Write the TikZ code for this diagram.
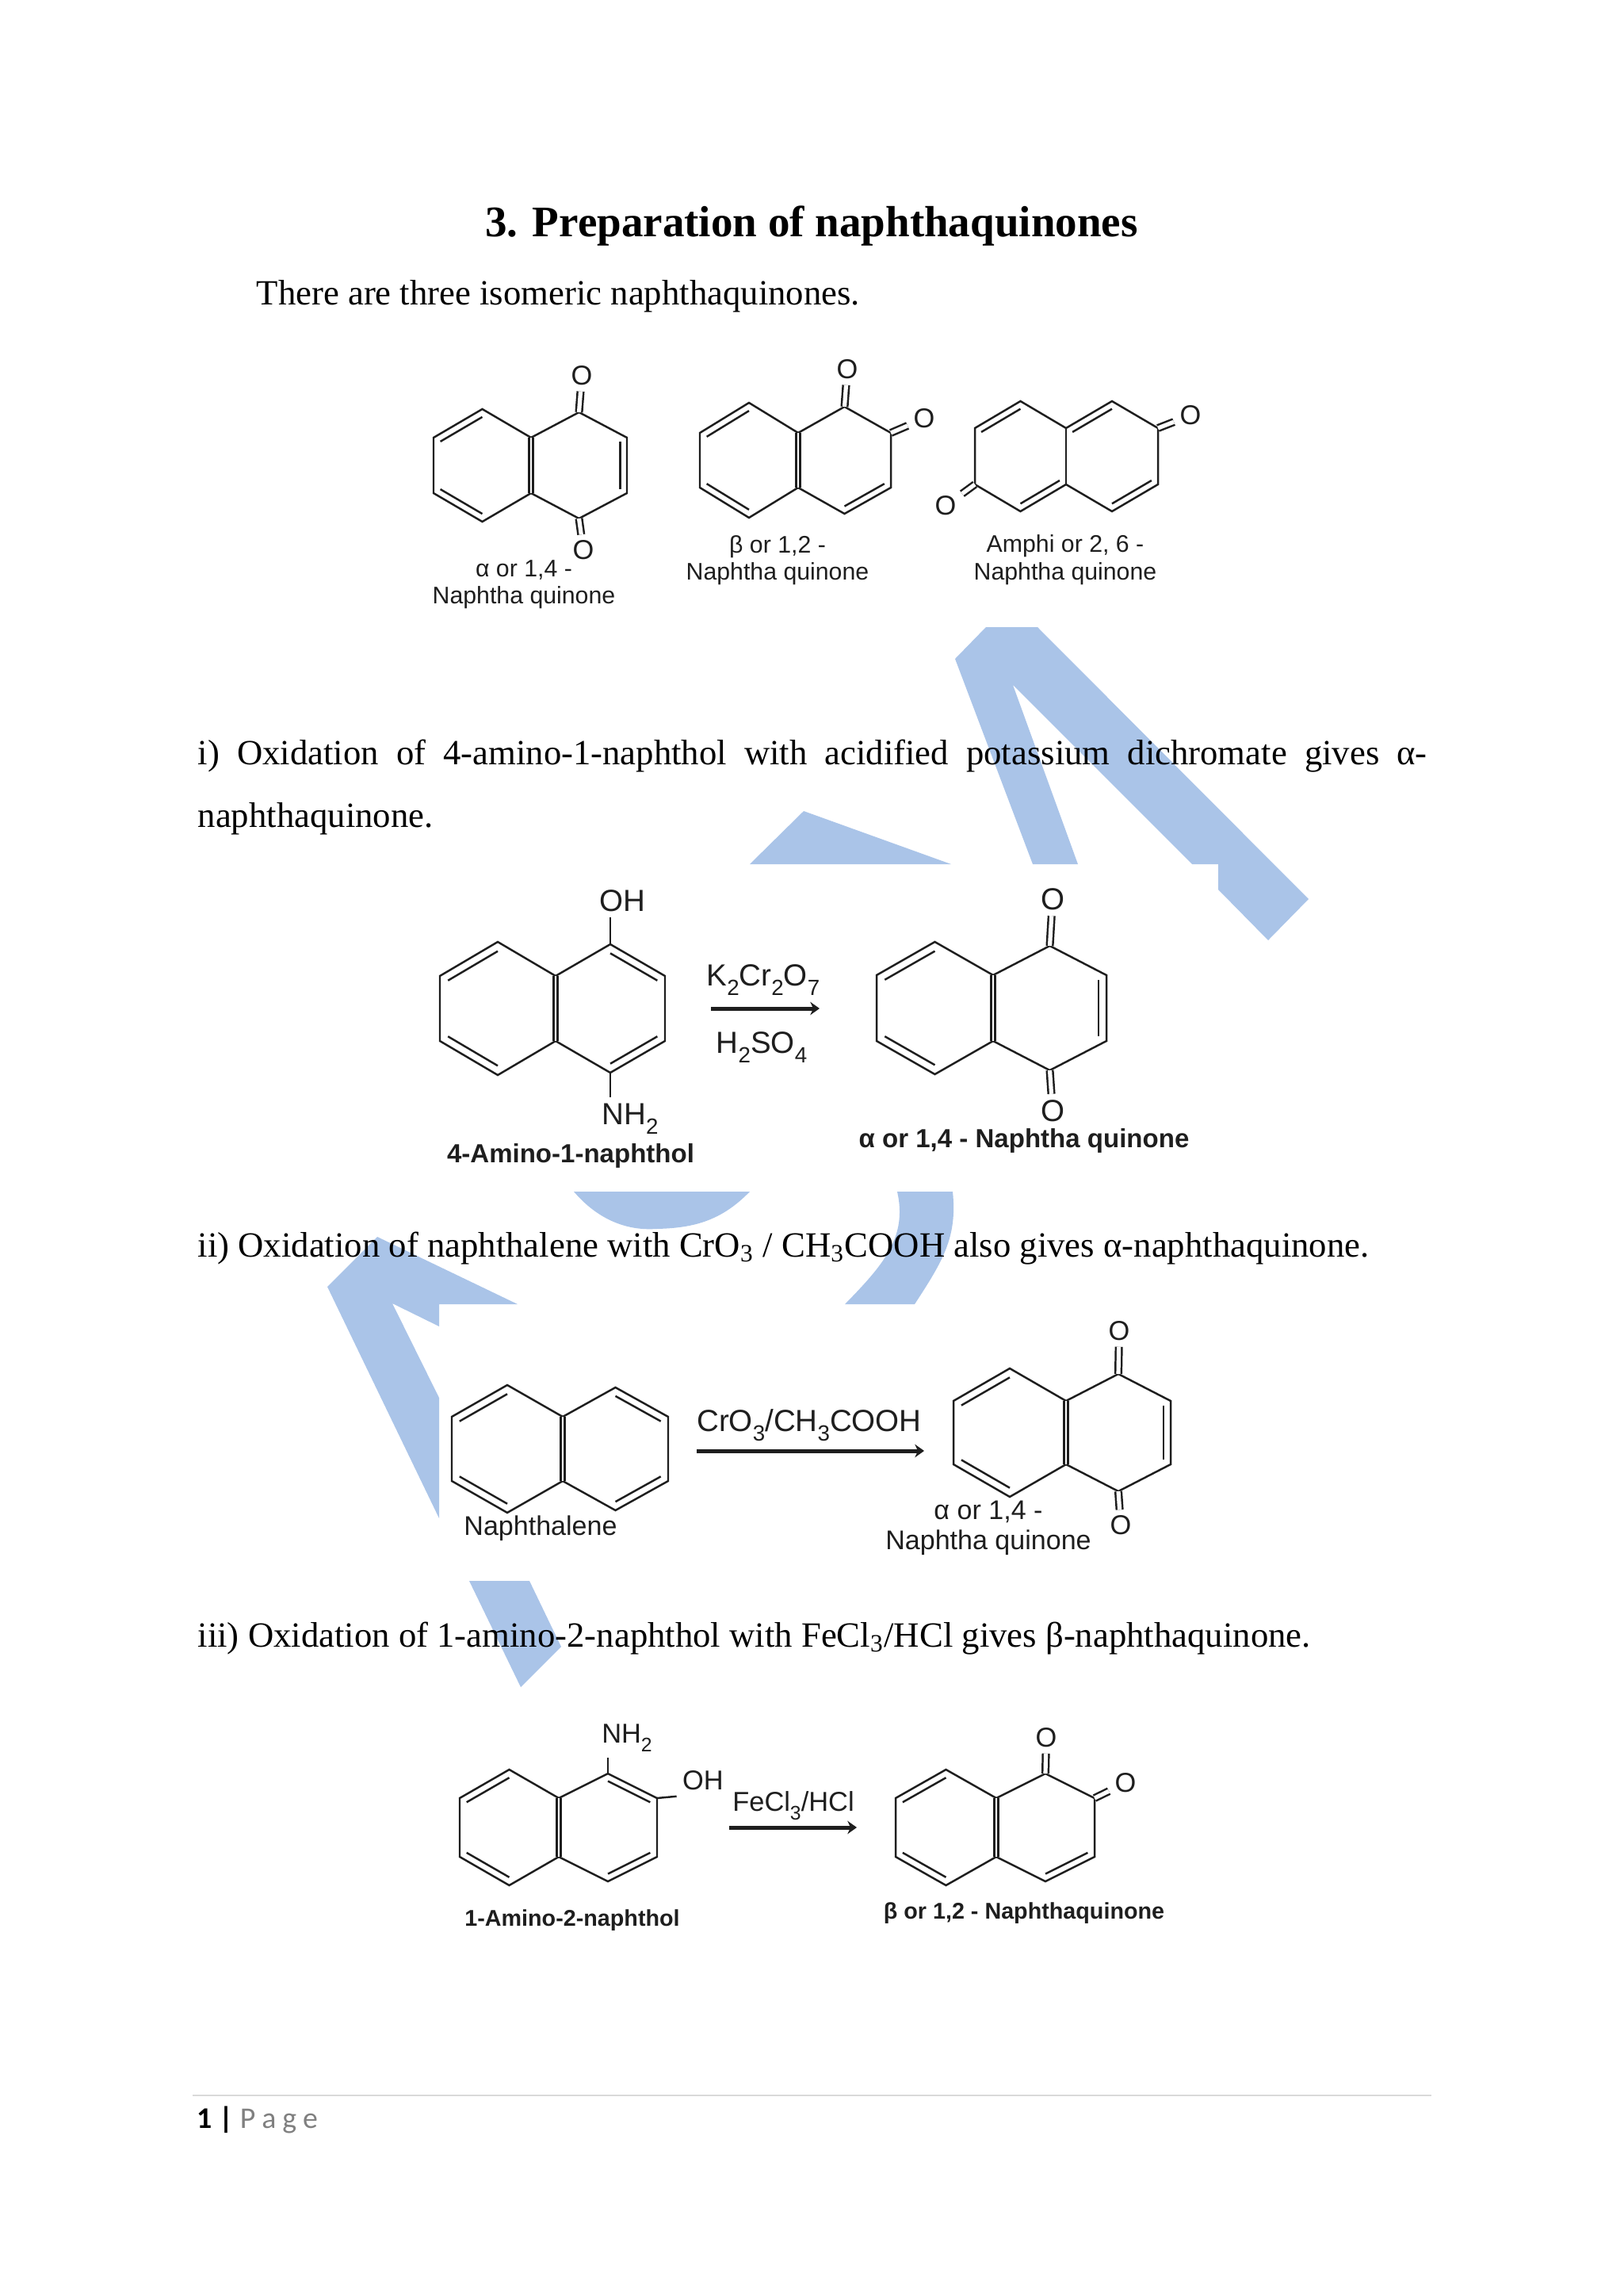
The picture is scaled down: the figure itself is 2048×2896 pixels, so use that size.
\documentclass[tikz,border=0pt]{standalone}
\usepackage{fontspec}
\setmainfont{Liberation Serif}
\newfontfamily\chemfont{Liberation Sans}
\newfontfamily\footfont{Carlito}
\usepackage{tikz}
\usetikzlibrary{calc,arrows.meta}
\definecolor{wmblue}{HTML}{AAC4E8}
\definecolor{ink}{HTML}{1E1E1E}
\tikzset{bond/.style = {ink,line width=0.72pt},
  fusion/.style = {bond,double,double distance=0.75pt},
  carbonyl/.style = {bond,double,double distance=1.5pt},
  rxn/.style = {ink,line width=1.45pt,-{Stealth[length=3.4pt,width=4.8pt]}},
  atom/.style = {inner sep=2pt,text=ink,font=\chemfont\fontsize{10}{10}\selectfont},
  group/.style = {inner sep=2pt,text=ink,font=\chemfont\fontsize{11.2}{12}\selectfont},
  lbl/.style = {inner sep=0pt,text=ink,font=\chemfont\fontsize{8.8}{9}\selectfont},
  lblw/.style = {inner sep=0pt,text=ink,font=\chemfont\fontsize{9.9}{10}\selectfont},
  lblb/.style = {inner sep=0pt,text=ink,font=\chemfont\bfseries\fontsize{9.6}{10}\selectfont},
  lbls/.style = {inner sep=0pt,text=ink,font=\chemfont\bfseries\fontsize{8.35}{9}\selectfont},
  body/.style = {anchor=base west,inner sep=0pt,font=\fontsize{13}{13}\selectfont},
  wm/.style = {fill=wmblue,draw=none}}
\newcommand{\chemsub}[1]{\raisebox{-0.6ex}{\scalebox{0.72}{#1}}}
\newcommand{\naph}[8]{%
  \coordinate (#1c1) at ({(#3+#4)/2},{#5-#8});
  \coordinate (#1c2) at (#4,#5);
  \coordinate (#1c3) at (#4,#6);
  \coordinate (#1c4) at ({(#3+#4)/2},{#6+#8});
  \coordinate (#1c4a) at (#3,#6);
  \coordinate (#1c5) at ({(#2+#3)/2},{#6+#7});
  \coordinate (#1c6) at (#2,#6);
  \coordinate (#1c7) at (#2,#5);
  \coordinate (#1c8) at ({(#2+#3)/2},{#5-#7});
  \coordinate (#1c8a) at (#3,#5);
  \coordinate (#1rl) at ({(#2+#3)/2},{(#5+#6)/2});
  \coordinate (#1rr) at ({(#3+#4)/2},{(#5+#6)/2});
  \draw[bond] (#1c1) -- (#1c2) -- (#1c3) -- (#1c4) -- (#1c4a) -- (#1c5) -- (#1c6) -- (#1c7) -- (#1c8) -- (#1c8a) -- cycle;}
\newcommand{\dblbond}[3]{\draw[bond] ($(#1)!0.14!(#3)$) -- ($(#2)!0.14!(#3)$);}
\newcommand{\benzo}[1]{%
  \dblbond{#1c7}{#1c8}{#1rl}
  \dblbond{#1c5}{#1c6}{#1rl}
  \draw[fusion] (#1c8a) -- (#1c4a);}
\begin{document}
\begin{tikzpicture}[x=0.29066pt,y=-0.29066pt]
  \useasboundingbox (0,0) rectangle (2048,2896);
  \fill[wm] (1244,791) -- (1309,791) -- (1651,1134) -- (1600,1186) -- (1537,1122) -- (1537,1090) -- (1504,1090) -- (1278,864) -- (1360,1090) -- (1303,1090) -- (1205,831) -- cycle;
  \fill[wm] (1014,1023) -- (1200,1090) -- (946,1090) -- cycle;
  \fill[wm] (724,1503) .. controls (760,1545) and (800,1552) .. (828,1550) .. controls (875,1549) and (910,1540) .. (946,1503) -- cycle;
  \fill[wm] (1132,1503) -- (1202,1503) .. controls (1208,1560) and (1190,1590) .. (1154,1645) -- (1066,1645) .. controls (1115,1595) and (1145,1560) .. (1132,1503) -- cycle;
  \fill[wm] (476,1560) -- (653,1645) -- (554,1645) -- (554,1673) -- (495,1644) -- (554,1763) -- (554,1915) -- (413,1623) -- cycle;
  \fill[wm] (592,1994) -- (668,1994) -- (708,2077) -- (657,2128) -- cycle;

  \node[inner sep=0pt,anchor=base] (title) at (1024,298) {\fontsize{16}{16}\selectfont\bfseries 3. Preparation of naphthaquinones};
  \node[body] (intro) at (323,384) {There are three isomeric naphthaquinones.};
  \node[body] (onea) at (249,964) {\makebox[450.8pt][s]{i) Oxidation of 4-amino-1-naphthol with acidified potassium dichromate gives α-}};
  \node[body] (oneb) at (249,1043) {naphthaquinone.};
  \node[body] (two) at (249,1585) {ii) Oxidation of naphthalene with CrO\textsubscript{3} / CH\textsubscript{3}COOH also gives α-naphthaquinone.};
  \node[body] (three) at (249,2077) {iii) Oxidation of 1-amino-2-naphthol with FeCl\textsubscript{3}/HCl gives β-naphthaquinone.};

  % isomers
  \naph{a}{547}{670}{791}{552}{622}{36}{32}
  \benzo{a}
  \dblbond{ac2}{ac3}{arr}
  \node[atom] (ao1) at (734,474) {O};
  \node[atom] (ao4) at (736,694) {O};
  \draw[carbonyl] (ac1) -- (ao1);
  \draw[carbonyl] (ac4) -- (ao4);
  \node[lbl] (al1) at (661,719) {α or 1,4 -};
  \node[lbl] (al2) at (661,754) {Naphtha quinone};

  \naph{b}{883}{1007}{1124}{546}{615}{38}{33}
  \benzo{b}
  \dblbond{bc3}{bc4}{brr}
  \node[atom] (bo1) at (1069,466) {O};
  \node[atom] (bo2) at (1166,528) {O};
  \draw[carbonyl] (bc1) -- (bo1);
  \draw[carbonyl] (bc2) -- (bo2);
  \node[lbl] (bl1) at (981,690) {β or 1,2 -};
  \node[lbl] (bl2) at (981,724) {Naphtha quinone};

  \naph{c}{1230}{1345}{1461}{540}{611}{34}{34}
  \draw[bond] (cc8a) -- (cc4a);
  \dblbond{cc7}{cc8}{crl}
  \dblbond{cc4a}{cc5}{crl}
  \dblbond{cc8a}{cc1}{crr}
  \dblbond{cc3}{cc4}{crr}
  \node[atom] (co2) at (1502,524) {O};
  \node[atom] (co6) at (1193,638) {O};
  \draw[carbonyl] (cc2) -- (co2);
  \draw[carbonyl] (cc6) -- (co6);
  \node[lbl] (cl1) at (1344,689) {Amphi or 2, 6 -};
  \node[lbl] (cl2) at (1344,724) {Naphtha quinone};

  % reaction i
  \naph{d}{555}{701}{839}{1231}{1313}{43}{40}
  \benzo{d}
  \dblbond{dc1}{dc2}{drr}
  \dblbond{dc3}{dc4}{drr}
  \node[group] (doh) at (785,1136) {OH};
  \node[group] (dnh) at (795,1411) {NH\chemsub{2}};
  \draw[bond] (dc1) -- (dc1 |- doh.south);
  \draw[bond] (dc4) -- (dc4 |- dnh.north);
  \node[lblb] (dl) at (720,1458) {4-Amino-1-naphthol};
  \node[group] (dr1) at (963,1236) {K\chemsub{2}Cr\chemsub{2}O\chemsub{7}};
  \node[group] (dr2) at (961,1321) {H\chemsub{2}SO\chemsub{4}};
  \coordinate (ds) at (897,1272);
  \coordinate (dt) at (1034,1272);
  \draw[rxn] (ds) -- (dt);

  \naph{e}{1106}{1253}{1396}{1230}{1313}{42}{37}
  \benzo{e}
  \dblbond{ec2}{ec3}{err}
  \node[group] (eo1) at (1328,1134) {O};
  \node[group] (eo4) at (1328,1401) {O};
  \draw[carbonyl] (ec1) -- (eo1);
  \draw[carbonyl] (ec4) -- (eo4);
  \node[lblb] (el) at (1292,1439) {α or 1,4 - Naphtha quinone};

  % reaction ii
  \naph{f}{570}{710}{843}{1787}{1868}{40}{37}
  \benzo{f}
  \dblbond{fc1}{fc2}{frr}
  \dblbond{fc3}{fc4}{frr}
  \node[lblw] (fl) at (682,1928) {Naphthalene};
  \node[group] (fr) at (1021,1798) {CrO\chemsub{3}/CH\chemsub{3}COOH};
  \coordinate (fs) at (879,1830);
  \coordinate (ft) at (1166,1830);
  \draw[rxn] (fs) -- (ft);

  \naph{g}{1203}{1345}{1477}{1767}{1847}{41}{34}
  \benzo{g}
  \dblbond{gc2}{gc3}{grr}
  \node[atom] (go1) at (1412,1679) {O};
  \node[atom] (go4) at (1414,1924) {O};
  \draw[carbonyl] (gc1) -- (go1);
  \draw[carbonyl] (gc4) -- (go4);
  \node[lblw] (gl1) at (1247,1907) {α or 1,4 -};
  \node[lblw] (gl2) at (1247,1946) {Naphtha quinone};

  % reaction iii
  \naph{h}{580}{705}{829}{2268}{2342}{36}{31}
  \benzo{h}
  \dblbond{hc1}{hc2}{hrr}
  \dblbond{hc3}{hc4}{hrr}
  \node[atom] (hnh) at (791,2192) {NH\chemsub{2}};
  \node[atom] (hoh) at (887,2246) {OH};
  \draw[bond] (hc1) -- (hc1 |- hnh.south);
  \draw[bond] (hc2) -- (hoh.south west);
  \node[lbls] (hl) at (722,2422) {1-Amino-2-naphthol};
  \node[atom] (hr) at (1001,2278) {FeCl\chemsub{3}/HCl};
  \coordinate (hs) at (920,2305);
  \coordinate (ht) at (1081,2305);
  \draw[rxn] (hs) -- (ht);

  \naph{i}{1130}{1257}{1381}{2268}{2342}{36}{31}
  \benzo{i}
  \dblbond{ic3}{ic4}{irr}
  \node[atom] (io1) at (1320,2192) {O};
  \node[atom] (io2) at (1420,2249) {O};
  \draw[carbonyl] (ic1) -- (io1);
  \draw[carbonyl] (ic2) -- (io2);
  \node[lbls] (il) at (1292,2413) {β or 1,2 - Naphthaquinone};

  % footer
  \coordinate (fa) at (243,2643);
  \coordinate (fb) at (1806,2643);
  \draw[color=black!15,line width=0.6pt] (fa) -- (fb);
  \node[anchor=base west,inner sep=0pt,font=\footfont\fontsize{11}{11}\selectfont] (page) at (248,2684) {\textbf{1 |} \textcolor{black!50}{P\kern2.3pt a\kern2.3pt g\kern2.3pt e}};
\end{tikzpicture}
\end{document}
